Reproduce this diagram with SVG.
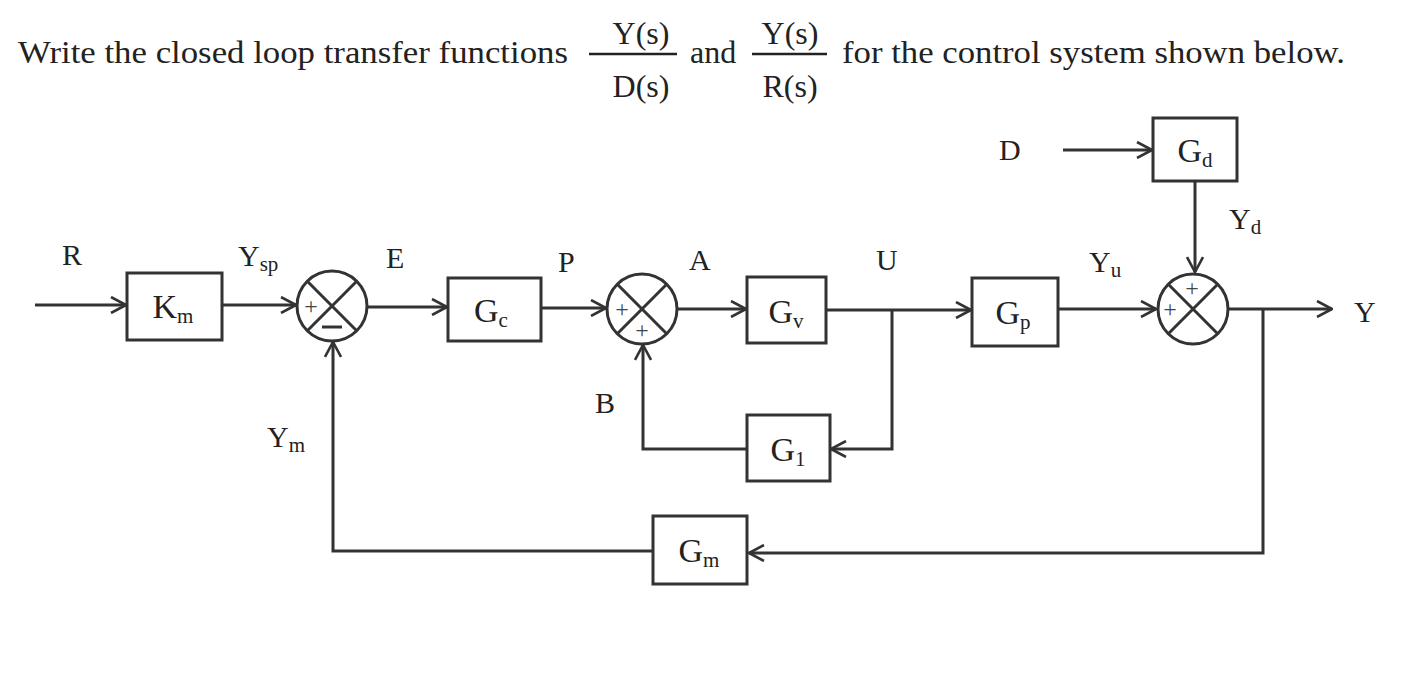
<svg xmlns="http://www.w3.org/2000/svg" width="1416" height="686" viewBox="0 0 1416 686">
<defs>
<marker id="arr" viewBox="0 0 18 18" refX="17" refY="9" markerWidth="18" markerHeight="18" markerUnits="userSpaceOnUse" orient="auto">
<path d="M2,1 L17,9 L2,17" fill="none" stroke="#333" stroke-width="2.6"/>
</marker>
<style>
.t{font-family:"Liberation Serif","Times New Roman",Tinos,serif;fill:#222}
.big{font-size:32px}
.lab{font-size:30px}
.blk{font-size:34px}
.sub{font-size:21px}
.box{fill:#fff;stroke:#333;stroke-width:3}
.ln{fill:none;stroke:#333;stroke-width:3}
.sum{fill:#fff;stroke:#333;stroke-width:3}
.x{stroke:#333;stroke-width:3}
.sg{font-family:"Liberation Serif",serif;font-size:24px;fill:#444}
</style>
</defs>
<rect width="1416" height="686" fill="#fff"/>

<g id="title">
<text class="t big" x="18" y="63" textLength="550" lengthAdjust="spacingAndGlyphs">Write the closed loop transfer functions</text>
<text class="t big" x="641" y="44" text-anchor="middle">Y(s)</text>
<line x1="589" y1="54" x2="677" y2="54" stroke="#222" stroke-width="2.5"/>
<text class="t big" x="641" y="97" text-anchor="middle">D(s)</text>
<text class="t big" x="690" y="63">and</text>
<text class="t big" x="790" y="44" text-anchor="middle">Y(s)</text>
<line x1="752" y1="54" x2="827" y2="54" stroke="#222" stroke-width="2.5"/>
<text class="t big" x="790" y="97" text-anchor="middle">R(s)</text>
<text class="t big" x="842" y="63" textLength="503" lengthAdjust="spacingAndGlyphs">for the control system shown below.</text>
</g>

<g id="connectors">
<path class="ln" d="M35,305 H126" marker-end="url(#arr)"/>
<path class="ln" d="M222,305 H296" marker-end="url(#arr)"/>
<path class="ln" d="M367,307 H447" marker-end="url(#arr)"/>
<path class="ln" d="M541,308 H606" marker-end="url(#arr)"/>
<path class="ln" d="M677,309 H746" marker-end="url(#arr)"/>
<path class="ln" d="M826,310 H971" marker-end="url(#arr)"/>
<path class="ln" d="M892,310 V449 H831" marker-end="url(#arr)"/>
<path class="ln" d="M747,449 H643 V345" marker-end="url(#arr)"/>
<path class="ln" d="M1058,309 H1156" marker-end="url(#arr)"/>
<path class="ln" d="M1228,309 H1332" marker-end="url(#arr)"/>
<path class="ln" d="M1263,309 V553 H749" marker-end="url(#arr)"/>
<path class="ln" d="M653,551 H333 V342" marker-end="url(#arr)"/>
<path class="ln" d="M1063,150 H1152" marker-end="url(#arr)"/>
<path class="ln" d="M1195,182 V272" marker-end="url(#arr)"/>
</g>

<g id="Km">
<rect class="box" x="127" y="273" width="95" height="67"/>
<text class="t blk" x="173" y="318" text-anchor="middle">K<tspan class="sub" dy="5">m</tspan></text>
</g>
<g id="sum1">
<circle class="sum" cx="332" cy="306" r="35"/>
<line class="x" x1="307.3" y1="281.3" x2="356.7" y2="330.7"/>
<line class="x" x1="356.7" y1="281.3" x2="307.3" y2="330.7"/>
<text class="sg" x="311" y="314" text-anchor="middle">+</text>
<line x1="322" y1="327" x2="342" y2="327" stroke="#333" stroke-width="3"/>
</g>
<g id="Gc">
<rect class="box" x="448" y="278" width="93" height="63"/>
<text class="t blk" x="491" y="322" text-anchor="middle">G<tspan class="sub" dy="5">c</tspan></text>
</g>
<g id="sum2">
<circle class="sum" cx="642" cy="309" r="35"/>
<line class="x" x1="617.3" y1="284.3" x2="666.7" y2="333.7"/>
<line class="x" x1="666.7" y1="284.3" x2="617.3" y2="333.7"/>
<text class="sg" x="622" y="317" text-anchor="middle">+</text>
<text class="sg" x="642" y="338" text-anchor="middle">+</text>
</g>
<g id="Gv">
<rect class="box" x="747" y="277" width="79" height="66"/>
<text class="t blk" x="786" y="323" text-anchor="middle">G<tspan class="sub" dy="5">v</tspan></text>
</g>
<g id="G1">
<rect class="box" x="747" y="415" width="83" height="66"/>
<text class="t blk" x="788" y="461" text-anchor="middle">G<tspan class="sub" dy="5">1</tspan></text>
</g>
<g id="Gp">
<rect class="box" x="972" y="278" width="86" height="68"/>
<text class="t blk" x="1013" y="324" text-anchor="middle">G<tspan class="sub" dy="5">p</tspan></text>
</g>
<g id="sum3">
<circle class="sum" cx="1193" cy="309" r="35"/>
<line class="x" x1="1168.3" y1="284.3" x2="1217.7" y2="333.7"/>
<line class="x" x1="1217.7" y1="284.3" x2="1168.3" y2="333.7"/>
<text class="sg" x="1192" y="296" text-anchor="middle">+</text>
<text class="sg" x="1170" y="317" text-anchor="middle">+</text>
</g>
<g id="Gd">
<rect class="box" x="1153" y="118" width="84" height="63"/>
<text class="t blk" x="1195" y="162" text-anchor="middle">G<tspan class="sub" dy="5">d</tspan></text>
</g>
<g id="Gm">
<rect class="box" x="653" y="516" width="94" height="68"/>
<text class="t blk" x="699" y="562" text-anchor="middle">G<tspan class="sub" dy="5">m</tspan></text>
</g>

<g id="labels">
<text class="t lab" x="62" y="265">R</text>
<text class="t lab" x="238" y="266">Y<tspan class="sub" dy="5">sp</tspan></text>
<text class="t lab" x="386" y="268">E</text>
<text class="t lab" x="558" y="272">P</text>
<text class="t lab" x="689" y="270">A</text>
<text class="t lab" x="876" y="270">U</text>
<text class="t lab" x="1089" y="272">Y<tspan class="sub" dy="5">u</tspan></text>
<text class="t lab" x="999" y="160">D</text>
<text class="t lab" x="1229" y="229">Y<tspan class="sub" dy="5">d</tspan></text>
<text class="t lab" x="1354" y="322">Y</text>
<text class="t lab" x="595" y="413">B</text>
<text class="t lab" x="267" y="447">Y<tspan class="sub" dy="5">m</tspan></text>
</g>
</svg>
